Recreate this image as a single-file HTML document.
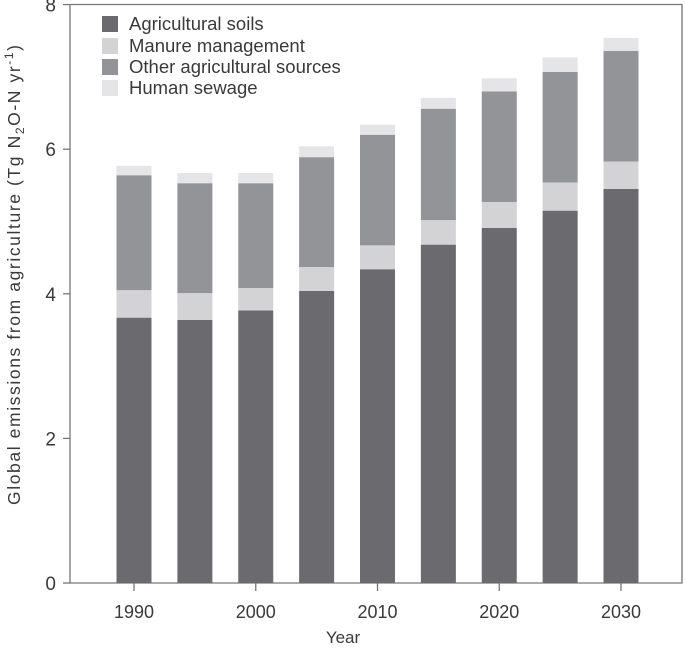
<!DOCTYPE html>
<html><head><meta charset="utf-8"><style>
body{margin:0;background:#fff}
svg{display:block;font-family:"Liberation Sans",sans-serif;fill:#3a3a3a}
</style></head><body>
<svg id="chart" width="685" height="654" viewBox="0 0 685 654">
<g id="axes"></g>
<g id="bars"></g>
<g id="legend"></g>
<text transform="translate(20,275) rotate(-90)" text-anchor="middle" font-size="17.5" textLength="460" lengthAdjust="spacing">Global emissions from agriculture (Tg N<tspan font-size="12" dy="4">2</tspan><tspan dy="-4">O-N yr</tspan><tspan font-size="12" dy="-7">-1</tspan><tspan dy="7">)</tspan></text>
<text x="343" y="643" text-anchor="middle" font-size="17">Year</text>
</svg>
<script>
const years=[1990,1995,2000,2005,2010,2015,2020,2025,2030];
const soils=[3.67,3.64,3.77,4.04,4.34,4.68,4.91,5.15,5.45];
const manure=[0.38,0.37,0.31,0.33,0.33,0.34,0.36,0.39,0.38];
const other=[1.59,1.52,1.45,1.52,1.53,1.54,1.53,1.53,1.53];
const sewage=[0.13,0.14,0.14,0.15,0.14,0.15,0.18,0.20,0.18];
const yTicks=[0,2,4,6,8];
const xTicks=[1990,2000,2010,2020,2030];
const seriesNames=["Agricultural soils","Manure management","Other agricultural sources","Human sewage"];
const NS="http://www.w3.org/2000/svg";
const colors=["#6b6b6f","#d3d3d5","#939497","#e5e5e7"];
const yS=v=>583-v*72.3;
const xS=y=>134+(y-1990)*12.175;
function mk(tag,attrs,parent){const e=document.createElementNS(NS,tag);for(const k in attrs)e.setAttribute(k,attrs[k]);parent.appendChild(e);return e;}
const axes=document.getElementById('axes');
let fr=mk('path',{d:'M70,583 V4.5 H682 V583 H70',fill:'none',stroke:'#777','stroke-width':1.3},axes);


yTicks.forEach(t=>{
 const l=mk('line',{x1:63,x2:70,y1:yS(t),y2:yS(t),stroke:'#777','stroke-width':1.3},axes);
 
 
 const tx=mk('text',{x:56,y:yS(t)+7,'text-anchor':'end','font-size':19},axes);
 tx.textContent=t;
 
 
});
xTicks.forEach(t=>{
 const l=mk('line',{x1:xS(t),x2:xS(t),y1:583,y2:591,stroke:'#777','stroke-width':1.3},axes);
 
 
 const tx=mk('text',{x:xS(t),y:618,'text-anchor':'middle','font-size':18},axes);
 tx.textContent=t;
 
 
});
const bars=document.getElementById('bars');
const series=[soils,manure,other,sewage];
const segNames=['soils','manure','other','sewage'];
years.forEach((yr,i)=>{
 let base=0;
 series.forEach((s,j)=>{
  const top=base+s[i];
  const r=mk('rect',{x:xS(yr)-17.5,width:35,y:yS(top),height:yS(base)-yS(top),fill:colors[j]},bars);
  
  
  base=top;
 });
});
const lg=document.getElementById('legend');
const ly=[24,46,67,88];
seriesNames.forEach((n,j)=>{
 const r=mk('rect',{x:102,y:ly[j]-8,width:16,height:16,fill:colors[j]},lg);
 
 
 const t=mk('text',{x:129,y:ly[j]+6,'font-size':18.5},lg);
 t.textContent=n;
 
 
});
</script>
</body></html>
